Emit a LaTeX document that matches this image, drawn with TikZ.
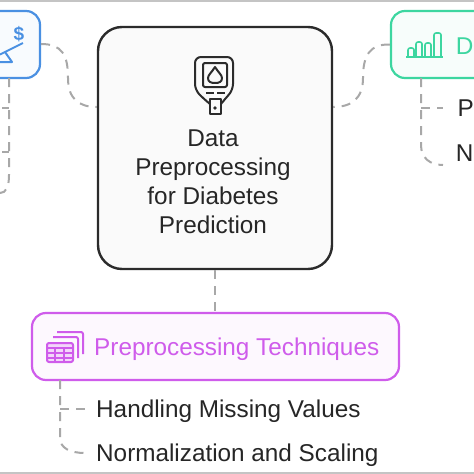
\documentclass[tikz,border=0pt]{standalone}
\usepackage{fontspec}
\setmainfont{Liberation Sans}
\usetikzlibrary{positioning, calc}
\definecolor{cblue}{HTML}{4A90E2}
\definecolor{cgreen}{HTML}{3DD6A0}
\definecolor{cpurple}{HTML}{CF5CEB}
\definecolor{cdark}{HTML}{2B2B2B}
\definecolor{cdash}{HTML}{A8A8A8}
\definecolor{cband}{HTML}{C4C4C4}

\begin{document}
\begin{tikzpicture}[
    x=1pt, y=-1pt,
    box/.style={draw=#1, line width=2.2pt, fill=#1!4, rounded corners=14pt, minimum height=67pt, inner sep=0pt},
    hubbox/.style={draw=cdark, line width=2.4pt, fill=black!2, rounded corners=24pt, minimum width=234pt, minimum height=242pt, inner sep=0pt},
    link/.style={cdash, line width=2pt, dash pattern=on 9pt off 7pt},
    item/.style={font=\fontsize{24.3}{27}\selectfont, text=black!85, inner sep=0pt, anchor=west},
    head/.style={font=\fontsize{24.3}{27}\selectfont, text=#1, inner sep=0pt, anchor=west},
    icon/.style={line width=2pt, line join=round}
]
\clip (0,0) rectangle (474,474);
\fill[white] (0,0) rectangle (474,474);
\fill[cband] (0,0) rectangle (474,2);
\fill[cband] (0,472) rectangle (474,474);

%% Boxes
\node[hubbox] (hub) at (215,148) {};
\node[box=cblue, minimum width=80pt] (costbox) at (0,44.5) {};
\node[box=cgreen, minimum width=150pt] (databox) at (466,44.5) {};
\node[box=cpurple, minimum width=367pt] (techbox) at (215.5,346.5) {};

%% Texts
\node[font=\fontsize{24.3}{29}\selectfont, align=center, text=black!85, inner sep=0pt] (hubtext) at (213,181.5) {Data\\Preprocessing\\for Diabetes\\Prediction};
\node[head=cgreen, anchor=east] (datahead) at (473.5,46) {D};
\node[item, anchor=east] (dataone) at (474,108) {P};
\node[item, anchor=east] (datatwo) at (473.5,153) {N};
\node[head=cpurple] (techhead) at (94,349) {Preprocessing Techniques};
\node[item] (techone) at (96,411) {Handling Missing Values};
\node[item] (techtwo) at (96,455) {Normalization and Scaling};

%% Connectors
\coordinate (costend) at (0,193);
\coordinate (costone) at (2,108);
\coordinate (costtwo) at (2,152);
\coordinate (hubleft) at (hub.west |- 0,107);
\coordinate (hubright) at (hub.east |- 0,107);
\draw[link] (9,78) -- (9,175) .. controls (9,187) and (6,193) .. (costend);
\draw[link] (costone) -- (9,108);
\draw[link] (costtwo) -- (9,152);
\draw[link] (costbox.east |- 0,44) .. controls (62,44) and (68,55) .. (68,78) .. controls (68,98) and (78,107) .. (hubleft);
\draw[link] (databox.west) .. controls (370,44) and (363,55) .. (363,78) .. controls (363,98) and (352,107) .. (hubright);
\draw[link] (421,78) -- (421,145) .. controls (421,158) and (430,165) .. (443,165);
\draw[link] (421,108) -- (443,108);
\draw[link] (hub.south) -- (215,313);
\draw[link] (60,380) -- (60,438) .. controls (60,448) and (70,453) .. (85,453);
\draw[link] (60,409) -- (85,409);

%% Meter icon
\draw[icon, cdark, rounded corners=6pt] (210,104) -- (204,99) -- (195,90) -- (195,57) -- (233,57) -- (233,90) -- (225,99) -- (221,104);
\draw[icon, cdark, rounded corners=2pt] (203,63) rectangle (227,87);
\draw[icon, cdark] (215,67) .. controls (212,72) and (208,75) .. (208,78) .. controls (208,82) and (211,83) .. (215,83) .. controls (219,83) and (222,82) .. (222,78) .. controls (222,75) and (218,72) .. (215,67) -- cycle;
\draw[icon, cdark] (206,93) -- (214,93) (217,93) -- (225,93);
\draw[icon, cdark] (210,99) rectangle (221,114);
\fill[cdark] (215,108) circle (1.8pt);

%% Seesaw icon
\draw[icon, cblue] (0,54.5) -- (23,43);
\draw[icon, cblue] (5,52) -- (12,62) -- (0,62);
\node[font=\bfseries\fontsize{19}{19}\selectfont, text=cblue, inner sep=0pt] (dollar) at (19,34) {\$};

%% Bars icon
\draw[icon, cgreen, line width=1.6pt] (406,57) -- (443,57);
\foreach \xa/\xb/\ytop in {408/414/48, 416/422/42, 425/431/43, 434/441/33}
  \draw[icon, cgreen, line width=1.6pt, rounded corners=2pt] (\xa,57) -- (\xa,\ytop) -- (\xb,\ytop) -- (\xb,57);

%% Table icon
\draw[icon, cpurple, rounded corners=2pt] (53,337) -- (78,337) -- (78,358);
\draw[icon, cpurple, rounded corners=2pt] (57,332) -- (83,332) -- (83,354);
\fill[cpurple!25, rounded corners=2pt] (47,343) rectangle (73,362);
\draw[icon, cpurple, rounded corners=2pt] (47,343) rectangle (73,362);
\draw[cpurple, line width=1.2pt] (47,348) -- (73,348) (47,353) -- (73,353) (47,358) -- (73,358) (55,348) -- (55,362) (64,348) -- (64,362);
\end{tikzpicture}
\end{document}
